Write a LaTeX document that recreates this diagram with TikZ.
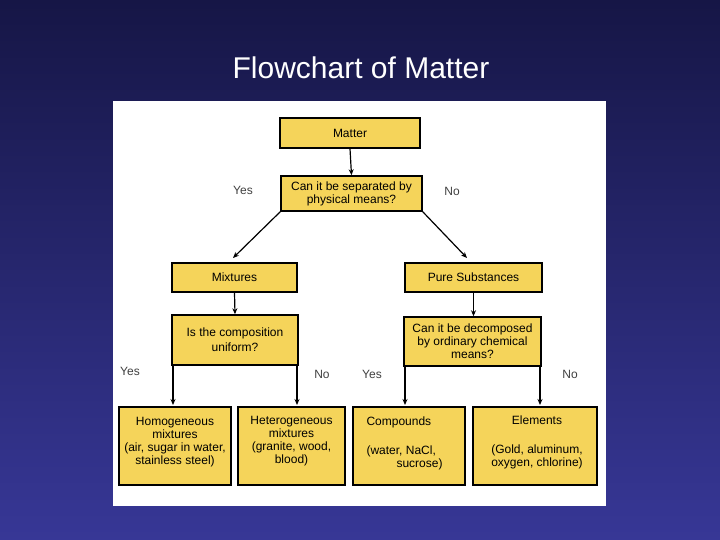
\documentclass[tikz,border=0pt]{standalone}
\usepackage{fontspec}
\setmainfont{Liberation Sans}
\usetikzlibrary{arrows.meta}
\begin{document}
\begin{tikzpicture}[x=1pt,y=-1pt,
  box/.style={draw=black,line width=1.5pt,fill={rgb,255:red,245;green,212;blue,90},inner sep=0pt},
  txt/.style={font=\fontsize{12}{13}\selectfont,align=center},
  lbl/.style={font=\fontsize{12}{13}\selectfont,text=black!75},
  arr/.style={-{Stealth[length=6pt,width=5pt]},line width=1.2pt}]
\shade[top color={rgb,255:red,22;green,22;blue,70},bottom color={rgb,255:red,55;green,55;blue,150}] (0,0) rectangle (720,540);
\useasboundingbox (0,0) rectangle (720,540);
\node[text=white,font=\fontsize{30}{34}\selectfont] (title) at (361,68) {Flowchart of Matter};
\fill[white] (113,101) rectangle (606,506);
\node[box,minimum width=140pt,minimum height=30pt] (matter) at (350,133) {};
\node[txt] at (matter) {Matter};
\node[box,minimum width=141pt,minimum height=35pt] (q1) at (351.5,193.5) {};
\node[txt] at (q1) {Can it be separated by\\physical means?};
\node[box,minimum width=125pt,minimum height=29pt] (mix) at (234.5,277.5) {};
\node[txt] at (mix) {Mixtures};
\node[box,minimum width=137pt,minimum height=29pt] (pure) at (473.5,277.5) {};
\node[txt] at (pure) {Pure Substances};
\node[box,minimum width=126pt,minimum height=50pt] (q2) at (235,340) {};
\node[txt] at (q2) {Is the composition\\[2pt]uniform?};
\node[box,minimum width=137pt,minimum height=49pt] (q3) at (472.5,341.5) {};
\node[txt] at (q3) {Can it be decomposed\\by ordinary chemical\\means?};
\node[box,minimum width=112pt,minimum height=78pt] (hom) at (175,446) {};
\node[txt,anchor=north] at (175,414) {Homogeneous\\mixtures\\(air, sugar in water,\\stainless steel)};
\node[box,minimum width=107pt,minimum height=78pt] (het) at (291.5,446) {};
\node[txt,anchor=north] at (291.5,413) {Heterogeneous\\mixtures\\(granite, wood,\\blood)};
\node[box,minimum width=112pt,minimum height=78pt] (cmp) at (409,446) {};
\node[txt,anchor=north west] at (363,413) {Compounds};
\node[txt,anchor=north west,align=left] at (363,442) {(water, NaCl,\\\hspace*{30pt}sucrose)};
\node[box,minimum width=124pt,minimum height=78pt] (elm) at (535,446) {};
\node[txt,anchor=north] at (537,412) {Elements};
\node[txt,anchor=north] at (537,441) {(Gold, aluminum,\\oxygen, chlorine)};
\draw[arr] (matter.south) -- (q1.north);
\draw[arr] (q1.south west) -- (233,258);
\draw[arr] (q1.south east) -- (467,258);
\draw[arr] (mix.south) -- (q2.north);
\draw[arr] (pure.south) -- (pure.south |- q3.north);
\draw[arr] (173,365) -- (173,405);
\draw[arr] (297,365) -- (297,405);
\draw[arr] (405,366) -- (405,405);
\draw[arr] (540,366) -- (540,405);
\node[lbl] (y1) at (243,190) {Yes};
\node[lbl] (n1) at (452,191) {No};
\node[lbl] (y2) at (130,371) {Yes};
\node[lbl] (n2) at (322,374) {No};
\node[lbl] (y3) at (372,374) {Yes};
\node[lbl] (n3) at (570,374) {No};
\end{tikzpicture}
\end{document}
